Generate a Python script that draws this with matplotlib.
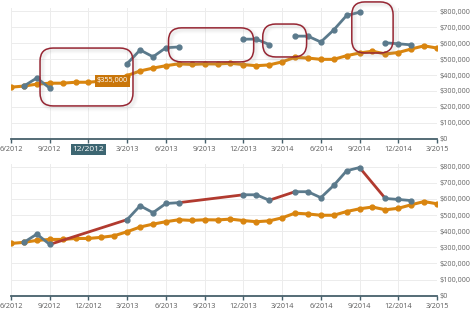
import matplotlib
matplotlib.use("Agg")
import matplotlib.pyplot as plt
from matplotlib.patches import FancyBboxPatch
import numpy as np

# ---------------- data ----------------
month_labels = ['6/2012', '9/2012', '12/2012', '3/2013', '6/2013', '9/2013',
                '12/2013', '3/2014', '6/2014', '9/2014', '12/2014', '3/2015']
months = list(range(34))  # 6/2012 .. 3/2015, monthly
median_price = [324, 331, 343, 349, 349, 355, 355, 362, 372, 397, 426, 444,
                459, 471, 467, 471, 470, 475, 466, 459, 464, 483, 512, 507,
                499, 499, 522, 539, 550, 533, 542, 564, 584, 570]  # $K
listing_price = [None, 331, 382, 318, None, None, None, None, None, 472, 558, 515,
                 572, 577, None, None, None, None, 626, 626, 592, None, 645, 645,
                 608, 684, 775, 795, None, 603, 597, 590, None, None]  # $K
y_ticks = [0, 100, 200, 300, 400, 500, 600, 700, 800]
highlight_idx = 6  # 12/2012
# gap highlight boxes (month start, month end, $K low, $K high)
gap_boxes = [(2.25, 9.45, 206, 570), (12.2, 18.8, 483, 697),
             (19.5, 22.9, 514, 721), (26.4, 29.6, 539, 860)]

BLUE = '#5b7a8c'
ORANGE = '#d9850f'
RED = '#b13a2f'
AXC = '#46606b'
GRID = '#ececec'
BOX = '#962633'

plt.rcParams['font.family'] = ['Open Sans', 'DejaVu Sans']

W, H = 474, 316
fig = plt.figure(figsize=(W / 100, H / 100), dpi=100)
fig.patch.set_facecolor('white')

left = 11 / W
width = (437 - 11) / W
ax1 = fig.add_axes([left, 1 - 138.7 / H, width, (138.7 - 8.3) / H])
ax2 = fig.add_axes([left, 1 - 295.7 / H, width, (295.7 - 163.5) / H])

mx = np.array(months, dtype=float)
med = np.array(median_price, dtype=float) * 1000
lst = np.array([np.nan if v is None else v for v in listing_price], dtype=float) * 1000


def style(ax, top_ylim):
    ax.set_xlim(0, 33)
    ax.set_ylim(0, top_ylim)
    ax.set_xticks(range(0, 34, 3))
    ax.set_xticklabels(month_labels)
    ax.set_yticks([v * 1000 for v in y_ticks])
    ax.set_yticklabels(['$' + format(v * 1000, ',') for v in y_ticks])
    ax.yaxis.tick_right()
    ax.tick_params(axis='y', length=0, pad=2, labelsize=5.2, labelcolor='#666666')
    ax.tick_params(axis='x', length=3, width=1, color=AXC, pad=2,
                   labelsize=5.2, labelcolor='#5a5a5a', direction='out')
    for s in ['top', 'left', 'right']:
        ax.spines[s].set_visible(False)
    ax.spines['bottom'].set_color(AXC)
    ax.spines['bottom'].set_linewidth(1.3)
    ax.grid(True, color=GRID, linewidth=0.7)
    ax.set_axisbelow(True)
    ax.set_facecolor('white')


style(ax1, 820000)
style(ax2, 820000)

# ---- top panel ----
ax1.plot(mx, med, color=ORANGE, lw=2.2, marker='o', ms=3.5, zorder=3)
ax1.plot(mx, lst, color=BLUE, lw=2.0, marker='o', ms=3.5, zorder=4)

# tooltip for highlighted point
val = median_price[highlight_idx] * 1000
ax1.annotate('$' + format(val, ','), xy=(mx[highlight_idx], med[highlight_idx]),
             xytext=(6, 1), textcoords='offset points', ha='left', va='center',
             fontsize=5.3, color='white',
             bbox=dict(boxstyle='square,pad=0.3', fc='#c9760a', ec='none'), zorder=6)

# highlighted x tick label
lab = ax1.get_xticklabels()[highlight_idx // 3]
lab.set_color('white')
lab.set_fontsize(6.0)
lab.set_bbox(dict(boxstyle='square,pad=0.25', fc='#3d6672', ec='none'))

# gap boxes
fig.canvas.draw()
for (x0, x1, y0, y1) in gap_boxes:
    p0 = ax1.transData.transform((x0, y0 * 1000))
    p1 = ax1.transData.transform((x1, y1 * 1000))
    w = p1[0] - p0[0]
    h = p1[1] - p0[1]
    for k, a in [(5, 0.035), (3.5, 0.05), (2, 0.07)]:
        sh = FancyBboxPatch((p0[0] + 2, p0[1] - 2), w, h,
                            boxstyle='round,pad=0,rounding_size=13', fc='none',
                            ec='#999999', lw=k, alpha=a, transform=None, zorder=5)
        fig.add_artist(sh)
    rect = FancyBboxPatch((p0[0], p0[1]), w, h,
                          boxstyle='round,pad=0,rounding_size=13', fc='none',
                          ec=BOX, lw=1.1, transform=None, zorder=6)
    fig.add_artist(rect)

# ---- bottom panel ----
valid = ~np.isnan(lst)
idx = np.where(valid)[0]
for a, b in zip(idx[:-1], idx[1:]):
    if b - a > 1:
        ax2.plot([mx[a], mx[b]], [lst[a], lst[b]], color=RED, lw=2.0, zorder=3.5)
ax2.plot(mx, med, color=ORANGE, lw=2.2, marker='o', ms=3.5, zorder=3)
ax2.plot(mx, lst, color=BLUE, lw=2.0, marker='o', ms=3.5, zorder=4)

fig.savefig('out.png', dpi=100, facecolor='white')
